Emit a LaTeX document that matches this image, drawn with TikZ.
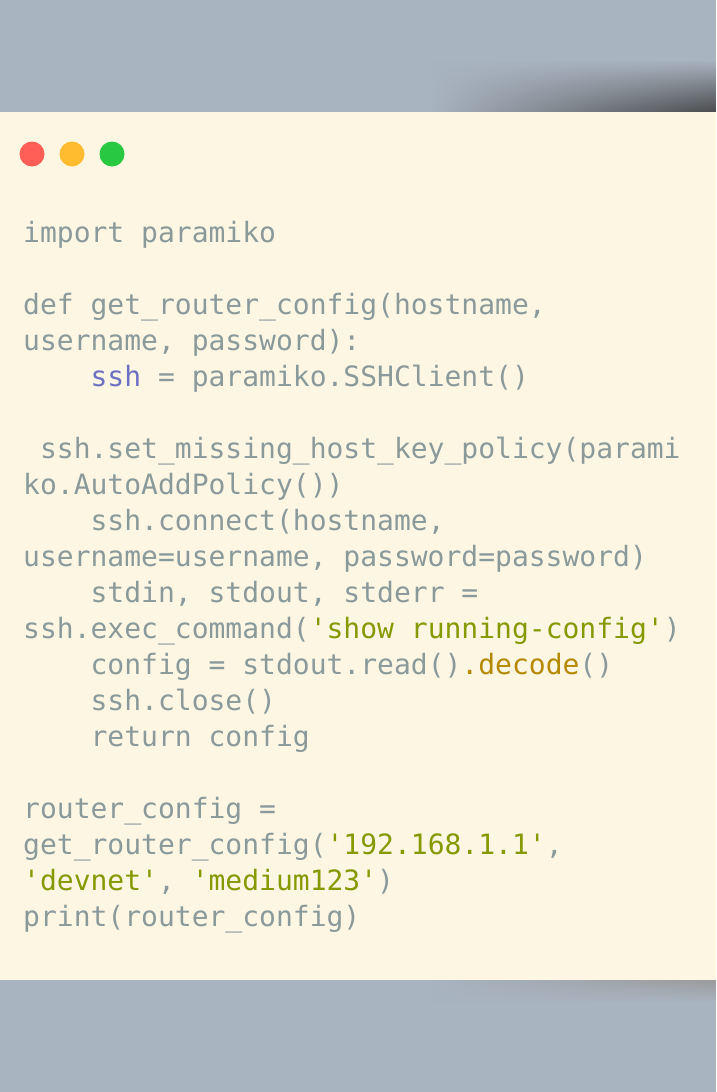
\documentclass[tikz,border=0pt]{standalone}
\usepackage{fontspec}
\setmonofont{DejaVu Sans Mono}
\usetikzlibrary{fadings}
\definecolor{bgc}{HTML}{A9B4C1}
\definecolor{card}{HTML}{FDF6E3}
\definecolor{cg}{HTML}{8A9A9B}
\definecolor{cv}{HTML}{6C71C4}
\definecolor{cgr}{HTML}{859900}
\definecolor{cy}{HTML}{B58900}
\definecolor{dred}{HTML}{FF5F57}
\definecolor{dyel}{HTML}{FEBC2E}
\definecolor{dgrn}{HTML}{28C840}
\tikzfading[name=fadeleftup, left color=transparent!100, right color=transparent!10]
\tikzset{code/.style={anchor=base west, inner sep=0pt, text=cg, font=\fontsize{28}{30}\selectfont\ttfamily}}
\begin{document}
\begin{tikzpicture}[x=1pt,y=-1pt]
\useasboundingbox (0,0) rectangle (716,1092);
\fill[bgc] (0,0) rectangle (716,1092);
\shade[top color=bgc, bottom color=black!75, path fading=fadeleftup] (430,60) rectangle (716,112);
\shade[top color=black!40, bottom color=bgc, path fading=fadeleftup] (430,980) rectangle (716,1002);
\fill[card] (0,112) rectangle (716,980);
\fill[dred] (32,154) circle (12.5);
\fill[dyel] (72,154) circle (12.5);
\fill[dgrn] (112,154) circle (12.5);
\def\b{9}
\node[code] (l1) at (23,233+\b) {import paramiko};
\node[code] (l2) at (23,305+\b) {def get\_router\_config(hostname,};
\node[code] (l3) at (23,341+\b) {username, password):};
\node[code] (l4) at (23,377+\b) {\ \ \ \ \textcolor{cv}{ssh} = paramiko.SSHClient()};
\node[code] (l5) at (23,449+\b) {\ ssh.set\_missing\_host\_key\_policy(parami};
\node[code] (l6) at (23,485+\b) {ko.AutoAddPolicy())};
\node[code] (l7) at (23,521+\b) {\ \ \ \ ssh.connect(hostname,};
\node[code] (l8) at (23,557+\b) {username=username, password=password)};
\node[code] (l9) at (23,593+\b) {\ \ \ \ stdin, stdout, stderr =};
\node[code] (l10) at (23,629+\b) {ssh.exec\_command(\textcolor{cgr}{'show running-config'})};
\node[code] (l11) at (23,665+\b) {\ \ \ \ config = stdout.read()\textcolor{cy}{.decode}()};
\node[code] (l12) at (23,701+\b) {\ \ \ \ ssh.close()};
\node[code] (l13) at (23,737+\b) {\ \ \ \ return config};
\node[code] (l14) at (23,809+\b) {router\_config =};
\node[code] (l15) at (23,845+\b) {get\_router\_config(\textcolor{cgr}{'192.168.1.1'},};
\node[code] (l16) at (23,881+\b) {\textcolor{cgr}{'devnet'}, \textcolor{cgr}{'medium123'})};
\node[code] (l17) at (23,917+\b) {print(router\_config)};
\end{tikzpicture}
\end{document}
